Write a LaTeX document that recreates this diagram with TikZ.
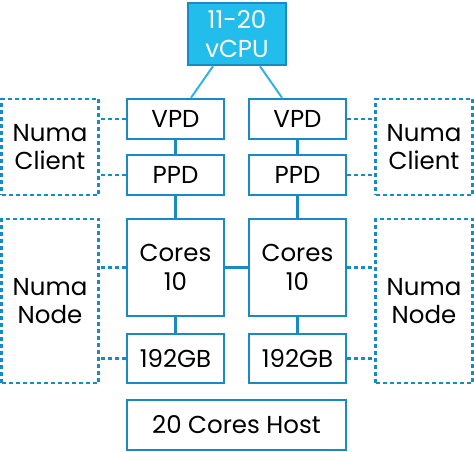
\documentclass[tikz,border=0pt]{standalone}
\usepackage{fontspec}
\setmainfont{Poppins}
\usepackage{tikz}
\usetikzlibrary{positioning}

\definecolor{vmblue}{HTML}{1A8BC2}
\definecolor{vmcyan}{HTML}{22BDEA}
\definecolor{vmlink}{HTML}{30B4E2}

\begin{document}
\begin{tikzpicture}[x=1pt,y=1pt,font=\fontsize{24.5}{28.5}\selectfont]
    \tikzstyle{unit}=[rectangle,draw=vmblue,line width=2.5pt,inner sep=0pt,
    minimum width=97pt,text=black,align=center]
    \tikzstyle{numa}=[rectangle,draw=vmblue,line width=2.2pt,dash pattern=on 4pt off 3pt,
    inner sep=0pt,minimum width=97pt,text=black,align=center]
    \tikzstyle{solid-link}=[draw=vmblue,line width=2.3pt]
    \tikzstyle{numa-link}=[draw=vmblue,line width=2.2pt,dash pattern=on 4pt off 3pt]

    \useasboundingbox (0,0) rectangle (474,451);

    % top
    \node [unit,fill=vmcyan,text=white,minimum width=98pt,minimum height=62pt] (vcpu) at (237,417) {11-20\\vCPU};

    % left column
    \node [unit,minimum height=40pt] (vpdL)  at (175.5,332)   {VPD};
    \node [unit,minimum height=40pt] (ppdL)  at (175.5,276)   {PPD};
    \node [unit,minimum height=97pt] (coresL) at (175.5,183.5) {Cores\\10};
    \node [unit,minimum height=49pt] (memL)  at (175.5,92.5)  {192GB};

    % right column
    \node [unit,minimum height=40pt] (vpdR)  at (297.5,332)   {VPD};
    \node [unit,minimum height=40pt] (ppdR)  at (297.5,276)   {PPD};
    \node [unit,minimum height=97pt] (coresR) at (297.5,183.5) {Cores\\10};
    \node [unit,minimum height=49pt] (memR)  at (297.5,92.5)  {192GB};

    \node [unit,minimum width=219pt,minimum height=50pt] (host) at (236.5,26) {20 Cores Host};

    % numa boxes
    \node [numa,minimum height=96pt]  (clientL) at (50,304)  {Numa\\Client};
    \node [numa,minimum height=164pt] (nodeL)   at (50,150)  {Numa\\Node};
    \node [numa,minimum height=96pt]  (clientR) at (424,304) {Numa\\Client};
    \node [numa,minimum height=164pt] (nodeR)   at (424,150) {Numa\\Node};

    % links
    \draw [draw=vmlink,line width=2pt] ([xshift=-24pt]vcpu.south) -- ([xshift=15.5pt]vpdL.north);
    \draw [draw=vmlink,line width=2pt] ([xshift=23pt]vcpu.south) -- ([xshift=-15.5pt]vpdR.north);
    \foreach \s in {L,R} {
      \draw [solid-link] (vpd\s.south) -- (ppd\s.north);
      \draw [solid-link] (ppd\s.south) -- (cores\s.north);
      \draw [solid-link] (cores\s.south) -- (mem\s.north);
    }
    \draw [solid-link] (coresL.east) -- (coresR.west);

    \draw [numa-link] (vpdL.west) -- (vpdL.west -| clientL.east);
    \draw [numa-link] (ppdL.west) -- (ppdL.west -| clientL.east);
    \draw [numa-link] (coresL.west) -- (coresL.west -| nodeL.east);
    \draw [numa-link] (memL.west) -- (memL.west -| nodeL.east);
    \draw [numa-link] (vpdR.east) -- (vpdR.east -| clientR.west);
    \draw [numa-link] (ppdR.east) -- (ppdR.east -| clientR.west);
    \draw [numa-link] (coresR.east) -- (coresR.east -| nodeR.west);
    \draw [numa-link] (memR.east) -- (memR.east -| nodeR.west);
\end{tikzpicture}
\end{document}
